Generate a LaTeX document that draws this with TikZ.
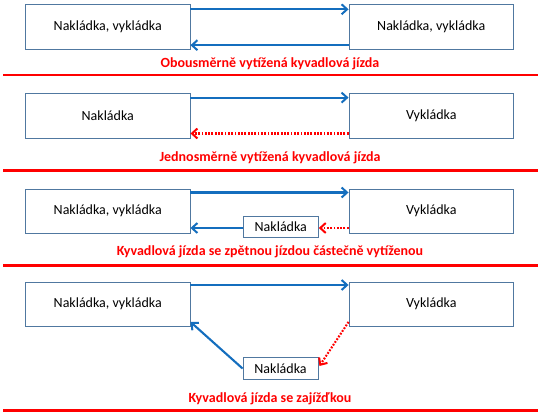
\documentclass[tikz,border=0pt]{standalone}
\usepackage{fontspec}
\setmainfont{Carlito}
\usetikzlibrary{arrows.meta}
\definecolor{boxc}{RGB}{80,120,160}
\definecolor{arrb}{RGB}{20,110,190}
\definecolor{redc}{RGB}{255,0,0}
\tikzset{
  bigbox/.style={draw=boxc, line width=0.9pt, fill=white, minimum width=164.5pt, minimum height=44.5pt, inner sep=0pt, font=\fontsize{14}{16}\selectfont},
  smallbox/.style={draw=boxc, line width=0.9pt, fill=white, minimum width=75pt, minimum height=21.5pt, inner sep=0pt, font=\fontsize{14}{16}\selectfont},
  bluarr/.style={draw=arrb, line width=2.1pt, -{Straight Barb[length=5.5pt,width=10pt,line width=2pt]}},
  redarr/.style={draw=redc, line width=2.1pt, dash pattern=on 1.8pt off 1.5pt, -{Straight Barb[length=5.5pt,width=10pt,line width=2pt]}},
  caption/.style={text=redc, font=\bfseries\fontsize{14}{16}\selectfont, inner sep=0pt},
  sepline/.style={draw=redc, line width=2.8pt}
}
\begin{document}
\begin{tikzpicture}[x=1pt,y=-1pt]
\fill[white] (0,0) rectangle (540,417);
\useasboundingbox (0,0) rectangle (540,417);
% Section 1
\node[bigbox] (L1) at (107.75,27) {Nakládka, vykládka};
\node[bigbox] (R1) at (431.25,27) {Nakládka, vykládka};
\draw[bluarr] ([yshift=-5pt]L1.north east) -- ([yshift=-5pt]R1.north west);
\draw[bluarr] ([yshift=4.5pt]R1.south west) -- ([yshift=4.5pt]L1.south east);
\node[caption] (c1) at (270,64) {Obousměrně vytížená kyvadlová jízda};
\draw[sepline] (3,75) -- (538,75);
% Section 2
\node[bigbox] (L2) at (107.75,115.8) {Nakládka};
\node[bigbox] (R2) at (431.25,115.8) {Vykládka};
\draw[bluarr] ([yshift=-4.5pt]L2.north east) -- ([yshift=-4.5pt]R2.north west);
\draw[redarr] ([yshift=5pt]R2.south west) -- ([yshift=5pt]L2.south east);
\node[caption] (c2) at (270,158) {Jednosměrně vytížená kyvadlová jízda};
\draw[sepline] (3,170.5) -- (538,170.5);
% Section 3
\node[bigbox] (L3) at (107.75,211.2) {Nakládka, vykládka};
\node[bigbox] (R3) at (431.25,211.2) {Vykládka};
\node[smallbox] (S3) at (280.8,226.7) {Nakládka};
\draw[bluarr] ([yshift=-4pt]L3.north east) -- ([yshift=-4pt]R3.north west);
\draw[bluarr] ([yshift=-1.3pt]S3.west) -- ([yshift=-1.3pt]S3.west -| L3.east);
\draw[redarr] ([yshift=-1.3pt]S3.east -| R3.west) -- ([yshift=-1.3pt]S3.east);
\node[caption] (c3) at (270,251.5) {Kyvadlová jízda se zpětnou jízdou částečně vytíženou};
\draw[sepline] (3,265.5) -- (538,265.5);
% Section 4
\node[bigbox] (L4) at (107.75,304.2) {Nakládka, vykládka};
\node[bigbox] (R4) at (431.25,304.2) {Vykládka};
\node[smallbox] (S4) at (280.5,368.5) {Nakládka};
\draw[bluarr] (S4.west) -- ([yshift=5pt]L4.south east);
\draw[bluarr] ([yshift=-3.5pt]L4.north east) -- ([yshift=-3.5pt]R4.north west);
\draw[redarr] ([yshift=5pt]R4.south west) -- ([xshift=1pt,yshift=2.5pt]S4.east);
\node[caption] (c4) at (270,398.5) {Kyvadlová jízda se zajížďkou};
\draw[sepline] (3,410.7) -- (538,410.7);
\end{tikzpicture}
\end{document}
